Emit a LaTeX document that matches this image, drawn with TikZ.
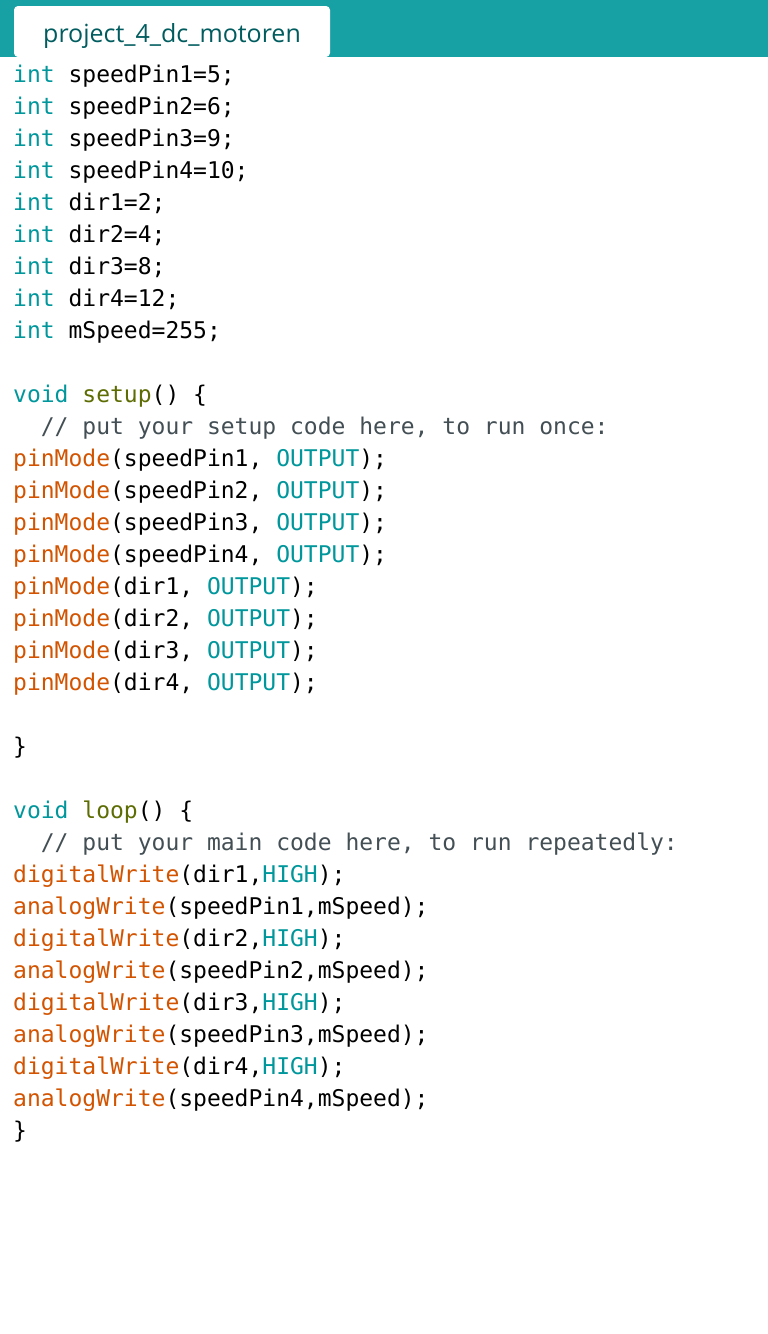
\documentclass[tikz,border=0pt]{standalone}
\usepackage{fontspec}
\setmonofont{DejaVu Sans Mono}
\setsansfont{Open Sans}
\definecolor{hdr}{HTML}{17A1A5}
\definecolor{tabtxt}{HTML}{005C5F}
\definecolor{kw}{HTML}{00979C}
\definecolor{fn}{HTML}{D35400}
\definecolor{sg}{HTML}{5E6D03}
\definecolor{cm}{HTML}{434F54}
\newcommand{\K}[1]{\textcolor{kw}{#1}}
\newcommand{\F}[1]{\textcolor{fn}{#1}}
\newcommand{\G}[1]{\textcolor{sg}{#1}}
\newcommand{\CodeLine}[3]{\node[code] (#1) at (13,{82+32*(#2-1)}) {#3};}
\begin{document}
\begin{tikzpicture}[x=1pt,y=-1pt,
  code/.style={anchor=base west,inner sep=0pt,font=\ttfamily\fontsize{23}{23}\selectfont,text=black}]
\useasboundingbox (0,0) rectangle (768,1334);
\fill[white] (0,0) rectangle (768,1334);
\fill[hdr] (0,0) rectangle (768,57);
\fill[white,rounded corners=4pt] (14,57) -- (14,6) -- (330,6) -- (330,57) -- cycle;
\node[anchor=base west,inner sep=0pt,text=tabtxt,font=\sffamily\fontsize{25}{25}\selectfont] (tab) at (43,42) {project\_4\_dc\_motoren};
\CodeLine{l1}{1}{\K{int} speedPin1=5;}
\CodeLine{l2}{2}{\K{int} speedPin2=6;}
\CodeLine{l3}{3}{\K{int} speedPin3=9;}
\CodeLine{l4}{4}{\K{int} speedPin4=10;}
\CodeLine{l5}{5}{\K{int} dir1=2;}
\CodeLine{l6}{6}{\K{int} dir2=4;}
\CodeLine{l7}{7}{\K{int} dir3=8;}
\CodeLine{l8}{8}{\K{int} dir4=12;}
\CodeLine{l9}{9}{\K{int} mSpeed=255;}
\CodeLine{l11}{11}{\K{void} \G{setup}() \{}
\CodeLine{l12}{12}{\textcolor{cm}{\ \ // put your setup code here, to run once:}}
\CodeLine{l13}{13}{\F{pinMode}(speedPin1, \K{OUTPUT});}
\CodeLine{l14}{14}{\F{pinMode}(speedPin2, \K{OUTPUT});}
\CodeLine{l15}{15}{\F{pinMode}(speedPin3, \K{OUTPUT});}
\CodeLine{l16}{16}{\F{pinMode}(speedPin4, \K{OUTPUT});}
\CodeLine{l17}{17}{\F{pinMode}(dir1, \K{OUTPUT});}
\CodeLine{l18}{18}{\F{pinMode}(dir2, \K{OUTPUT});}
\CodeLine{l19}{19}{\F{pinMode}(dir3, \K{OUTPUT});}
\CodeLine{l20}{20}{\F{pinMode}(dir4, \K{OUTPUT});}
\CodeLine{l22}{22}{\}}
\CodeLine{l24}{24}{\K{void} \G{loop}() \{}
\CodeLine{l25}{25}{\textcolor{cm}{\ \ // put your main code here, to run repeatedly:}}
\CodeLine{l26}{26}{\F{digitalWrite}(dir1,\K{HIGH});}
\CodeLine{l27}{27}{\F{analogWrite}(speedPin1,mSpeed);}
\CodeLine{l28}{28}{\F{digitalWrite}(dir2,\K{HIGH});}
\CodeLine{l29}{29}{\F{analogWrite}(speedPin2,mSpeed);}
\CodeLine{l30}{30}{\F{digitalWrite}(dir3,\K{HIGH});}
\CodeLine{l31}{31}{\F{analogWrite}(speedPin3,mSpeed);}
\CodeLine{l32}{32}{\F{digitalWrite}(dir4,\K{HIGH});}
\CodeLine{l33}{33}{\F{analogWrite}(speedPin4,mSpeed);}
\CodeLine{l34}{34}{\}}
\end{tikzpicture}
\end{document}
